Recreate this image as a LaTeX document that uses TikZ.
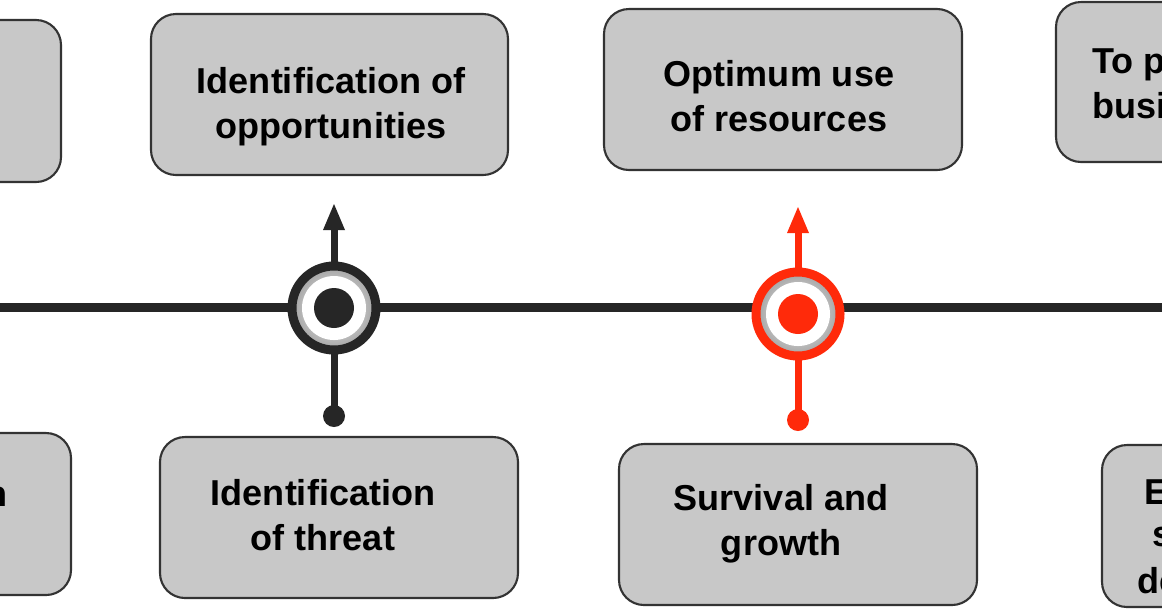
\documentclass[tikz,border=0pt]{standalone}
\usepackage{fontspec}
\setmainfont{Liberation Sans}
\begin{document}
\begin{tikzpicture}[x=0.02cm,y=-0.02cm,
  box/.style={draw=black!80,line width=1.2pt,fill=boxgray,rounded corners=0.5cm},
  lbl/.style={font=\bfseries\fontsize{20.5}{25.5}\selectfont,align=center,text=black},
  dk/.style={draw=dark,line width=0.18cm}]
\definecolor{boxgray}{HTML}{C8C8C8}
\definecolor{dark}{HTML}{262626}
\definecolor{redc}{HTML}{FF2A0A}
\clip (0,0) rectangle (1162,610);
\fill[white] (0,0) rectangle (1162,610);
% boxes
\draw[box] (-300,20) rectangle (61,182);
\draw[box] (151,14) rectangle (508,175);
\draw[box] (604,9) rectangle (962,170);
\draw[box] (1056,2) rectangle (1400,162);
\draw[box] (-300,433) rectangle (71,595);
\draw[box] (160,437) rectangle (518,598);
\draw[box] (619,444) rectangle (977,605);
\draw[box] (1102,445) rectangle (1450,607);
\node[lbl] (t2) at (331,107) {Identification of\\opportunities};
\node[lbl] (t3) at (779,96) {Optimum use\\of resources};
\node[lbl,anchor=west,align=left] (t4) at (1086,84) {To p\\busi};
\node[lbl,anchor=east,inner sep=0pt] (b1) at (8,497) {n};
\node[lbl] (b2) at (323,515) {Identification\\of threat};
\node[lbl] (b3) at (781,524) {Survival and\\growth};
\node[lbl,anchor=west] (b4a) at (1138,492) {E};
\node[lbl,anchor=west] (b4b) at (1146,537) {s};
\node[lbl,anchor=west] (b4c) at (1131,581) {de};
% timeline
\coordinate (L) at (-10,307); \coordinate (R) at (1172,307);
\draw[dk] (L) -- (R);
% dark marker
\coordinate (m1) at (334,308);
\coordinate (d1) at (334,416);
\draw[dk,line width=0.14cm] (m1) -- (334,228);
\fill[dark] (334,204) -- (323,230) -- (345,230) -- cycle;
\draw[dk,line width=0.14cm] (m1) -- (d1);
\fill[dark] (d1) circle (11);
\shade[inner color=white,outer color=gray!70] (m1) circle (40);
\fill[white] (m1) circle (32);
\draw[dark,line width=0.18cm] (m1) circle (42);
\fill[dark] (m1) circle (20);
% red marker
\coordinate (m2) at (798,314);
\coordinate (d2) at (798,420);
\draw[draw=redc,line width=0.14cm] (m2) -- (798,232);
\fill[redc] (798,207) -- (787,233) -- (809,233) -- cycle;
\draw[draw=redc,line width=0.14cm] (m2) -- (d2);
\fill[redc] (d2) circle (11);
\fill[white] (m2) circle (42);
\shade[inner color=white,outer color=gray!70] (m2) circle (40);
\fill[white] (m2) circle (32);
\draw[redc,line width=0.18cm] (m2) circle (42);
\fill[redc] (m2) circle (20);
\end{tikzpicture}
\end{document}
